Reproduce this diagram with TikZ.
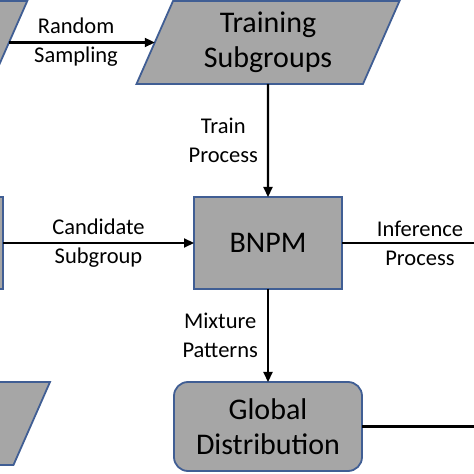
\documentclass[tikz,border=0pt]{standalone}
\usepackage{fontspec}
\setmainfont{Carlito}
\usetikzlibrary{arrows.meta,shapes.geometric}
\definecolor{boxgray}{RGB}{166,166,166}
\definecolor{boxblue}{RGB}{64,94,148}

\begin{document}
\begin{tikzpicture}[x=1pt,y=1pt,
  shapebox/.style={draw=boxblue,fill=boxgray,line width=1.8pt,outer sep=0pt,inner sep=0pt,align=center,font=\fontsize{30}{35}\selectfont},
  data/.style={shapebox,trapezium,trapezium left angle=59,trapezium right angle=121,trapezium stretches body,minimum width=263,minimum height=83},
  proc/.style={shapebox,minimum width=148,minimum height=92},
  lbl/.style={font=\fontsize{22.5}{29}\selectfont,align=center,inner sep=2pt},
  flow/.style={line width=2.2pt,-{Triangle[length=10pt,width=9pt]}}]
  \useasboundingbox (0,0) rectangle (474,474);
  \clip (0,0) rectangle (474,474);
  % shapes
  \node[data] (train) at (268,431.5) {Training\\Subgroups};
  \node[data,anchor=right side] (pool) at (9,431.5) {\phantom{Training}\\\phantom{Subgroups}};
  \node[data,anchor=top right corner] (test) at (50,92) {\phantom{Training}\\\phantom{Subgroups}};
  \node[proc] (bnpm) at (268,231) {BNPM};
  \node[proc,anchor=east] (cand) at (3,231) {};
  \node[shapebox,rounded corners=14pt,minimum width=188,minimum height=89] (glob) at (268,47.5) {Global\\Distribution};
  \coordinate (inferend) at (498,231);
  \coordinate (globend) at (490,47.5);
  % connectors
  \draw[flow] (pool.right side) -- node[lbl,pos=0.46] {Random\\Sampling} (train.left side);
  \draw[flow] (train) -- node[lbl,left=7pt] {Train\\Process} (bnpm);
  \draw[flow] (cand) -- node[lbl] {Candidate\\Subgroup} (bnpm);
  \draw[line width=2.2pt] (bnpm) -- node[lbl] {Inference\\Process} (inferend);
  \draw[flow] (bnpm) -- node[lbl,left=7pt] {Mixture\\Patterns} (glob);
  \draw[line width=2.2pt] (glob) -- (globend);
\end{tikzpicture}
\end{document}
